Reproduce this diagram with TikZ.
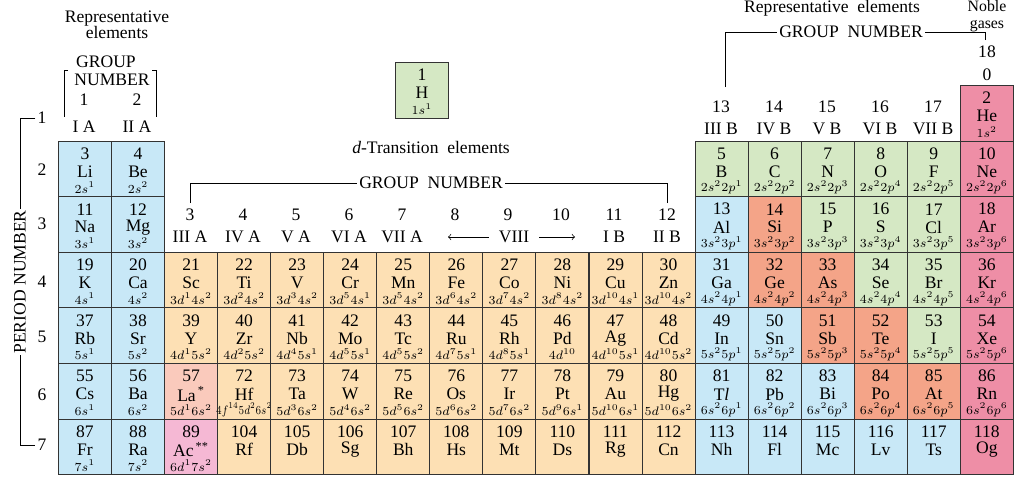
\documentclass[tikz,border=0pt]{standalone}
\usepackage{fontspec}
\setmainfont{Liberation Serif}
\usepackage{tikz}

\definecolor{sblock}{RGB}{200,232,247}
\definecolor{pgreen}{RGB}{213,232,196}
\definecolor{dorange}{RGB}{253,224,180}
\definecolor{metalloid}{RGB}{244,164,136}
\definecolor{noble}{RGB}{238,142,166}
\definecolor{lacell}{RGB}{250,202,188}
\definecolor{accell}{RGB}{245,184,212}

\tikzset{
  cell/.style={draw=black!80, line width=0.5pt, anchor=north west, minimum width=1.061cm, minimum height=1.112cm, inner sep=0pt},
  num/.style={font=\fontsize{10}{10}\selectfont, inner sep=0pt},
  conf/.style={font=\fontsize{7.5}{8}\selectfont, inner sep=0pt},
  lab/.style={font=\fontsize{10}{11}\selectfont, inner sep=1pt, align=center}
}

% col, row, name, number, symbol, configuration, colour
\newcommand{\elem}[7]{%
\node[cell, fill=#7] (#3) at ({58+53.05*(#1-1)},{85+55.6*(#2-1)}) {};
\node[num] (#3_n) at ([yshift=-0.26cm]#3.north) {#4};
\node[num] (#3_s) at ([yshift=-0.62cm]#3.north) {#5};
\node[conf] (#3_c) at ([yshift=-0.94cm]#3.north) {#6};
}

\begin{document}
\begin{tikzpicture}[x=0.02cm, y=-0.02cm]
\useasboundingbox (0,0) rectangle (1017,477);

% headings
\node[lab] (rep_l) at (117,25) {Representative\\[-2pt]elements};
\node[lab] (rep_r) at (832,8) {Representative \ elements};
\node[lab, font=\fontsize{9}{9.5}\selectfont, inner sep=0pt] (noble_g) at (987,16) {Noble\\gases};
\node[lab] (dtrans) at (431,147) {\textit{d}-Transition \ elements};

% group number, left
\node[lab] (gn_l1) at (106,62) {GROUP};
\node[lab] (gn_l2) at (112,80) {NUMBER};
\draw (68,70) -- (64,70) -- (64,117);
\draw (152,70) -- (156,70) -- (156,117);
\node[lab] (g1) at (84,100) {1};
\node[lab] (g2) at (137,100) {2};
\node[lab] (g1r) at (84,127) {I A};
\node[lab] (g2r) at (137,127) {II A};

% group number, d-block
\node[lab] (gn_d) at (431,183) {GROUP \ NUMBER};
\coordinate (gd_a) at (190,203);
\coordinate (gd_b) at (667,203);
\draw (gd_a) |- (gn_d.west);
\draw (gd_b) |- (gn_d.east);
\node[lab] (g3) at (190,215) {3};   \node[lab] (g3r) at (190,237) {III A};
\node[lab] (g4) at (243,215) {4};   \node[lab] (g4r) at (243,237) {IV A};
\node[lab] (g5) at (296,215) {5};   \node[lab] (g5r) at (296,237) {V A};
\node[lab] (g6) at (349,215) {6};   \node[lab] (g6r) at (349,237) {VI A};
\node[lab] (g7) at (402,215) {7};   \node[lab] (g7r) at (402,237) {VII A};
\node[lab] (g8) at (455,215) {8};
\node[lab] (g9) at (508,215) {9};   \node[lab] (g9r) at (514,237) {VIII};
\node[lab] (g10) at (561,215) {10};
\node[lab] (g11) at (614,215) {11}; \node[lab] (g11r) at (614,237) {I B};
\node[lab] (g12) at (667,215) {12}; \node[lab] (g12r) at (667,237) {II B};
\coordinate (viii_l) at (448,237);
\coordinate (viii_r) at (575,237);
\draw[->] (g9r.west) ++(-8,0) -- (viii_l);
\draw[->] (g9r.east) ++(8,0) -- (viii_r);

% group number, right
\node[lab] (gn_r) at (851,32) {GROUP \ NUMBER};
\coordinate (gr_a) at (725,87);
\coordinate (gr_b) at (985,40);
\draw (gr_a) |- (gn_r.west);
\draw (gr_b) |- (gn_r.east);
\node[lab] (g13) at (721,107) {13}; \node[lab] (g13r) at (721,129) {III B};
\node[lab] (g14) at (774,107) {14}; \node[lab] (g14r) at (774,129) {IV B};
\node[lab] (g15) at (827,107) {15}; \node[lab] (g15r) at (827,129) {V B};
\node[lab] (g16) at (880,107) {16}; \node[lab] (g16r) at (880,129) {VI B};
\node[lab] (g17) at (933,107) {17}; \node[lab] (g17r) at (933,129) {VII B};
\node[lab] (g18) at (987,52) {18};
\node[lab] (g18r) at (987,75) {0};

% period numbers
\node[lab] (p1) at (42,118) {1};
\node[lab] (p2) at (42,170) {2};
\node[lab] (p3) at (42,224) {3};
\node[lab] (p4) at (42,282) {4};
\node[lab] (p5) at (42,337) {5};
\node[lab] (p6) at (42,395) {6};
\node[lab] (p7) at (42,445) {7};
\draw (p1.west) -- (20,118) -- (20,445) -- (p7.west);
\node[lab, fill=white, rotate=90] (pn) at (20,282) {PERIOD NUMBER};

% period 1
\elem{7.352}{0.586}{H}{1}{H}{$1s^1$}{pgreen}
\elem{18}{1}{He}{2}{He}{$1s^2$}{noble}
% period 2
\elem{1}{2}{Li}{3}{Li}{$2s^1$}{sblock}
\elem{2}{2}{Be}{4}{Be}{$2s^2$}{sblock}
\elem{13}{2}{B}{5}{B}{$2s^22p^1$}{pgreen}
\elem{14}{2}{C}{6}{C}{$2s^22p^2$}{pgreen}
\elem{15}{2}{N}{7}{N}{$2s^22p^3$}{pgreen}
\elem{16}{2}{O}{8}{O}{$2s^22p^4$}{pgreen}
\elem{17}{2}{F}{9}{F}{$2s^22p^5$}{pgreen}
\elem{18}{2}{Ne}{10}{Ne}{$2s^22p^6$}{noble}
% period 3
\elem{1}{3}{Na}{11}{Na}{$3s^1$}{sblock}
\elem{2}{3}{Mg}{12}{Mg}{$3s^2$}{sblock}
\elem{13}{3}{Al}{13}{Al}{$3s^23p^1$}{sblock}
\elem{14}{3}{Si}{14}{Si}{$3s^23p^2$}{metalloid}
\elem{15}{3}{P}{15}{P}{$3s^23p^3$}{pgreen}
\elem{16}{3}{S}{16}{S}{$3s^23p^4$}{pgreen}
\elem{17}{3}{Cl}{17}{Cl}{$3s^23p^5$}{pgreen}
\elem{18}{3}{Ar}{18}{Ar}{$3s^23p^6$}{noble}
% period 4
\elem{1}{4}{K}{19}{K}{$4s^1$}{sblock}
\elem{2}{4}{Ca}{20}{Ca}{$4s^2$}{sblock}
\elem{3}{4}{Sc}{21}{Sc}{$3d^14s^2$}{dorange}
\elem{4}{4}{Ti}{22}{Ti}{$3d^24s^2$}{dorange}
\elem{5}{4}{V}{23}{V}{$3d^34s^2$}{dorange}
\elem{6}{4}{Cr}{24}{Cr}{$3d^54s^1$}{dorange}
\elem{7}{4}{Mn}{25}{Mn}{$3d^54s^2$}{dorange}
\elem{8}{4}{Fe}{26}{Fe}{$3d^64s^2$}{dorange}
\elem{9}{4}{Co}{27}{Co}{$3d^74s^2$}{dorange}
\elem{10}{4}{Ni}{28}{Ni}{$3d^84s^2$}{dorange}
\elem{11}{4}{Cu}{29}{Cu}{$3d^{10}4s^1$}{dorange}
\elem{12}{4}{Zn}{30}{Zn}{$3d^{10}4s^2$}{dorange}
\elem{13}{4}{Ga}{31}{Ga}{$4s^24p^1$}{sblock}
\elem{14}{4}{Ge}{32}{Ge}{$4s^24p^2$}{metalloid}
\elem{15}{4}{As}{33}{As}{$4s^24p^3$}{metalloid}
\elem{16}{4}{Se}{34}{Se}{$4s^24p^4$}{pgreen}
\elem{17}{4}{Br}{35}{Br}{$4s^24p^5$}{pgreen}
\elem{18}{4}{Kr}{36}{Kr}{$4s^24p^6$}{noble}
% period 5
\elem{1}{5}{Rb}{37}{Rb}{$5s^1$}{sblock}
\elem{2}{5}{Sr}{38}{Sr}{$5s^2$}{sblock}
\elem{3}{5}{Y}{39}{Y}{$4d^15s^2$}{dorange}
\elem{4}{5}{Zr}{40}{Zr}{$4d^25s^2$}{dorange}
\elem{5}{5}{Nb}{41}{Nb}{$4d^45s^1$}{dorange}
\elem{6}{5}{Mo}{42}{Mo}{$4d^55s^1$}{dorange}
\elem{7}{5}{Tc}{43}{Tc}{$4d^55s^2$}{dorange}
\elem{8}{5}{Ru}{44}{Ru}{$4d^75s^1$}{dorange}
\elem{9}{5}{Rh}{45}{Rh}{$4d^85s^1$}{dorange}
\elem{10}{5}{Pd}{46}{Pd}{$4d^{10}$}{dorange}
\elem{11}{5}{Ag}{47}{Ag}{$4d^{10}5s^1$}{dorange}
\elem{12}{5}{Cd}{48}{Cd}{$4d^{10}5s^2$}{dorange}
\elem{13}{5}{In}{49}{In}{$5s^25p^1$}{sblock}
\elem{14}{5}{Sn}{50}{Sn}{$5s^25p^2$}{sblock}
\elem{15}{5}{Sb}{51}{Sb}{$5s^25p^3$}{metalloid}
\elem{16}{5}{Te}{52}{Te}{$5s^25p^4$}{metalloid}
\elem{17}{5}{I}{53}{I}{$5s^25p^5$}{pgreen}
\elem{18}{5}{Xe}{54}{Xe}{$5s^25p^6$}{noble}
% period 6
\elem{1}{6}{Cs}{55}{Cs}{$6s^1$}{sblock}
\elem{2}{6}{Ba}{56}{Ba}{$6s^2$}{sblock}
\elem{3}{6}{La}{57}{La\textsuperscript{\,*}}{$5d^16s^2$}{lacell}
\elem{4}{6}{Hf}{72}{Hf}{\scalebox{0.8}[1]{$4f^{14}5d^26s^2$}}{dorange}
\elem{5}{6}{Ta}{73}{Ta}{$5d^36s^2$}{dorange}
\elem{6}{6}{W}{74}{W}{$5d^46s^2$}{dorange}
\elem{7}{6}{Re}{75}{Re}{$5d^56s^2$}{dorange}
\elem{8}{6}{Os}{76}{Os}{$5d^66s^2$}{dorange}
\elem{9}{6}{Ir}{77}{Ir}{$5d^76s^2$}{dorange}
\elem{10}{6}{Pt}{78}{Pt}{$5d^96s^1$}{dorange}
\elem{11}{6}{Au}{79}{Au}{$5d^{10}6s^1$}{dorange}
\elem{12}{6}{Hg}{80}{Hg}{$5d^{10}6s^2$}{dorange}
\elem{13}{6}{Tl}{81}{T\textit{l}}{$6s^26p^1$}{sblock}
\elem{14}{6}{Pb}{82}{Pb}{$6s^26p^2$}{sblock}
\elem{15}{6}{Bi}{83}{Bi}{$6s^26p^3$}{sblock}
\elem{16}{6}{Po}{84}{Po}{$6s^26p^4$}{metalloid}
\elem{17}{6}{At}{85}{At}{$6s^26p^5$}{metalloid}
\elem{18}{6}{Rn}{86}{Rn}{$6s^26p^6$}{noble}
% period 7
\elem{1}{7}{Fr}{87}{Fr}{$7s^1$}{sblock}
\elem{2}{7}{Ra}{88}{Ra}{$7s^2$}{sblock}
\elem{3}{7}{Ac}{89}{Ac\textsuperscript{\,**}}{$6d^17s^2$}{accell}
\elem{4}{7}{Rf}{104}{Rf}{}{dorange}
\elem{5}{7}{Db}{105}{Db}{}{dorange}
\elem{6}{7}{Sg}{106}{Sg}{}{dorange}
\elem{7}{7}{Bh}{107}{Bh}{}{dorange}
\elem{8}{7}{Hs}{108}{Hs}{}{dorange}
\elem{9}{7}{Mt}{109}{Mt}{}{dorange}
\elem{10}{7}{Ds}{110}{Ds}{}{dorange}
\elem{11}{7}{Rg}{111}{Rg}{}{dorange}
\elem{12}{7}{Cn}{112}{Cn}{}{dorange}
\elem{13}{7}{Nh}{113}{Nh}{}{sblock}
\elem{14}{7}{Fl}{114}{Fl}{}{sblock}
\elem{15}{7}{Mc}{115}{Mc}{}{sblock}
\elem{16}{7}{Lv}{116}{Lv}{}{sblock}
\elem{17}{7}{Ts}{117}{Ts}{}{sblock}
\elem{18}{7}{Og}{118}{Og}{}{noble}
\end{tikzpicture}
\end{document}
